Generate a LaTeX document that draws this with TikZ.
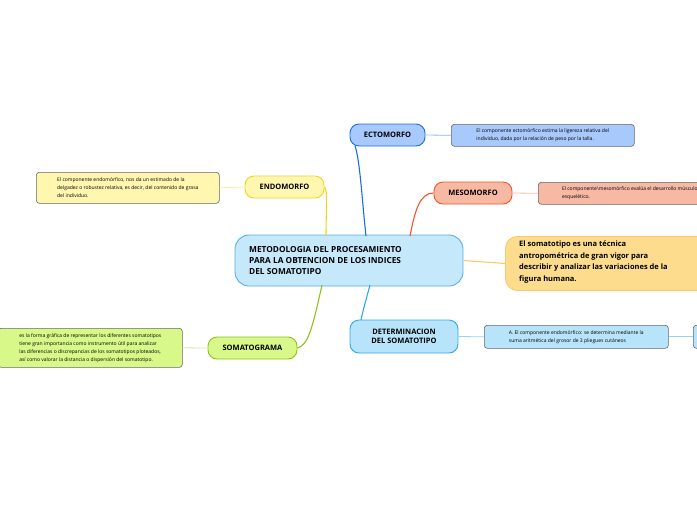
\documentclass[tikz,border=0pt]{standalone}
\usepackage{fontspec}
\setmainfont{Open Sans}
\begin{document}
\begin{tikzpicture}[x=1pt,y=-1pt,
 topic/.style={draw,line width=0.9pt,rounded corners=9pt,font=\fontsize{7.5}{9}\selectfont\bfseries,align=center,inner sep=0pt},
 note/.style={draw=gray!80!black,line width=0.6pt,rounded corners=3pt,font=\fontsize{5}{8}\selectfont,align=left,inner sep=4pt,anchor=north west},
 conn/.style={line width=1.1pt}]
\useasboundingbox (0,0) rectangle (697,520);
\clip (0,0) rectangle (697,520);
\definecolor{cbl}{HTML}{C5E8FB}\definecolor{cblb}{HTML}{5AAEE8}
\definecolor{ecf}{HTML}{A7C9FB}\definecolor{ecb}{HTML}{1A6FE0}
\definecolor{msf}{HTML}{F7B9A4}\definecolor{msb}{HTML}{F0562A}
\definecolor{sof}{HTML}{FDDC8D}\definecolor{sob}{HTML}{FCC96A}
\definecolor{dtf}{HTML}{B8E4FB}\definecolor{dtb}{HTML}{2FA9E8}
\definecolor{enf}{HTML}{FFF7B0}\definecolor{enb}{HTML}{EFD51F}
\definecolor{sgf}{HTML}{D8F98A}\definecolor{sgb}{HTML}{8EC21A}
% connectors
\coordinate (c1) at (366,236);\coordinate (c2) at (410,236);\coordinate (c3) at (463,262);
\coordinate (c4) at (370,285);\coordinate (c5) at (326,236);\coordinate (c6) at (322,285);
\node[topic,fill=ecf,draw=ecb,minimum width=75pt,minimum height=22pt] (ecto) at (387.5,135) {ECTOMORFO};
\node[topic,fill=msf,draw=msb,minimum width=78pt,minimum height=22pt] (meso) at (473,193) {MESOMORFO};
\node[topic,fill=dtf,draw=dtb,minimum width=108pt,minimum height=33pt] (det) at (404,336.5) {DETERMINACION\\DEL SOMATOTIPO};
\node[topic,fill=enf,draw=enb,minimum width=79pt,minimum height=22pt] (endo) at (284.5,187) {ENDOMORFO};
\node[topic,fill=sgf,draw=sgb,minimum width=89pt,minimum height=22pt] (soma) at (252.5,348) {SOMATOGRAMA};
\node[draw=cblb,fill=cbl,line width=0.9pt,rounded corners=14pt,minimum width=228pt,minimum height=51pt,inner sep=0pt] (ctr) at (349,260.5) {};
\node[anchor=west,align=left,font=\fontsize{8.3}{11}\selectfont\bfseries,inner sep=0pt] at (249,260.5) {METODOLOGIA DEL PROCESAMIENTO\\PARA LA OBTENCION DE LOS INDICES\\DEL SOMATOTIPO};
\node[draw=sob,fill=sof,line width=0.9pt,rounded corners=12pt,minimum width=210pt,minimum height=54pt,anchor=north west,inner sep=0pt] (sti) at (505,236) {};
\node[anchor=west,align=left,font=\fontsize{7.5}{11.5}\selectfont\bfseries,inner sep=0pt] at (519,262) {El somatotipo es una técnica\\antropométrica de gran vigor para\\describir y analizar las variaciones de la\\figura humana.};
\draw[conn,ecb] (ecto.south west)++(5,0) coordinate (e1) (c1) .. controls (362,200) and (360,160) .. (355,146);
\draw[conn,msb] (c2) .. controls (415,210) and (420,193) .. (meso.west);
\draw[conn,sob] (ctr.east) -- (sti.west);
\draw[conn,dtb] (c4) .. controls (366,300) and (363,310) .. (361,320);
\draw[conn,enb] (c5) .. controls (326,210) and (328,190) .. (endo.east);
\draw[conn,sgb] (c6) .. controls (312,330) and (308,345) .. (soma.east);
% notes
\node[note,fill=ecf,minimum width=183pt,minimum height=22pt] (n1) at (451,124) {El componente ectomórfico estima la ligereza relativa del\\individuo, dada por la relación de peso por la talla.};
\node[note,fill=msf,minimum width=183pt,minimum height=22pt] (n2) at (538,182) {El componente\textbackslash mesomórfico evalúa el desarrollo músculo\\esquelético.};
\node[note,fill=dtf,minimum width=184pt,minimum height=23pt] (n3) at (484,325) {A. El componente endomórfico: se determina mediante la\\suma aritmética del grosor de 3 pliegues cutáneos};
\node[note,fill=dtf,minimum width=30pt,minimum height=23pt] (n4) at (693,325) {};
\node[note,fill=enf,minimum width=183pt,minimum height=31pt] (n5) at (36,172) {El componente endomórfico, nos da un estimado de la\\delgadez o robustez relativa, es decir, del contenido de grasa\\del individuo.};
\node[note,fill=sgf,minimum width=184pt,minimum height=39pt] (n6) at (-2,328) {es la forma gráfica de representar los diferentes somatotipos\\tiene gran importancia como instrumento útil para analizar\\las diferencias o discrepancias de los somatotipos ploteados,\\así como valorar la distancia o dispersión del somatotipo.};
\draw[ecb!50,line width=0.8pt] (ecto.east) -- (n1.west);
\draw[msb!40,line width=0.8pt] (meso.east) -- (n2.west);
\draw[dtb!50,line width=0.8pt] (det.east) -- (n3.west);
\draw[dtb!50,line width=0.8pt] (n3.east) -- (n4.west);
\draw[enb!40,line width=0.8pt] (endo.west) -- (n5.east);
\draw[sgb!40,line width=0.8pt] (soma.west) -- (n6.east);
\end{tikzpicture}
\end{document}
